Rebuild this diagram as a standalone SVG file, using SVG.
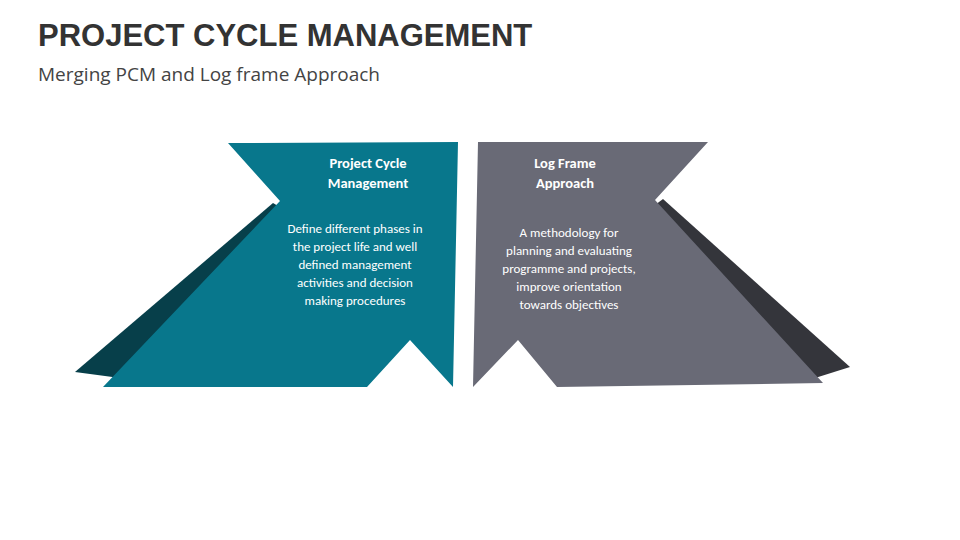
<svg xmlns="http://www.w3.org/2000/svg" width="960" height="540" viewBox="0 0 960 540">
<style>
.t{font-family:Calibri,"Liberation Sans",Carlito,sans-serif;fill:#fff;text-anchor:middle}
.h{font-size:14.5px;font-weight:bold}
.b{font-size:13px}
</style>
<rect width="960" height="540" fill="#fff"/>
<text x="38" y="46" font-family="Liberation Sans,sans-serif" font-weight="bold" font-size="31" fill="#333">PROJECT CYCLE MANAGEMENT</text>
<text x="38" y="81" font-family="Open Sans,Liberation Sans,sans-serif" font-size="19" fill="#444">Merging PCM and Log frame Approach</text>
<g id="pcm">
<polygon points="75,372 273,203 283,209 150,382" fill="#073f4a"/>
<polygon points="228,143 458,142 453,387 410,340 367,387 103,387 280,201" fill="#08778c"/>
<text class="t h" x="368" y="168">Project Cycle</text>
<text class="t h" x="368" y="188">Management</text>
<text class="t b" x="355" y="233">Define different phases in</text>
<text class="t b" x="355" y="251">the project life and well</text>
<text class="t b" x="355" y="269">defined management</text>
<text class="t b" x="355" y="287">activities and decision</text>
<text class="t b" x="355" y="305">making procedures</text>
</g>
<g id="lfa">
<polygon points="655,205 663,199 850,367 815,378" fill="#34353b"/>
<polygon points="478,142 708,142 655,200 823,383 557,387 518,340 473,387" fill="#696a76"/>
<text class="t h" x="565" y="168">Log Frame</text>
<text class="t h" x="565" y="188">Approach</text>
<text class="t b" x="569" y="237">A methodology for</text>
<text class="t b" x="569" y="255">planning and evaluating</text>
<text class="t b" x="569" y="273">programme and projects,</text>
<text class="t b" x="569" y="291">improve orientation</text>
<text class="t b" x="569" y="309">towards objectives</text>
</g>
<g id="connectors"/>
</svg>
